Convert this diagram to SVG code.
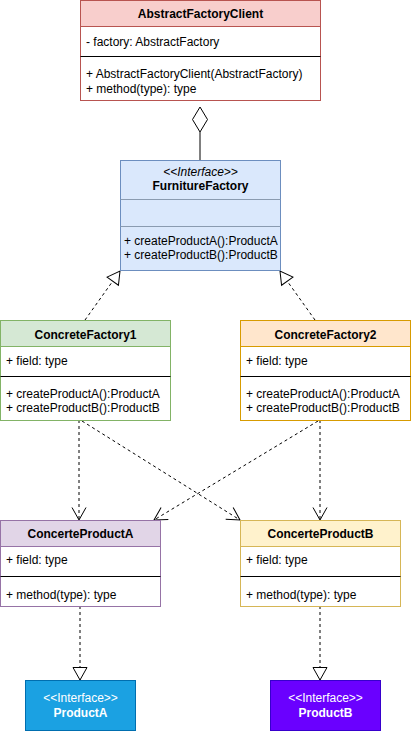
<svg xmlns="http://www.w3.org/2000/svg" width="411" height="731" viewBox="0 0 411 731">
<style>
text { font-family: "Liberation Sans", Arial, Helvetica, sans-serif; font-size: 12px; fill: #000; }
.b { font-weight: bold; }
.c { text-anchor: middle; }
.w { fill: #fff; }
.sep { stroke: #000; stroke-width: 1; }
.dash { fill: none; stroke: #000; stroke-width: 1; stroke-dasharray: 3 3; }
</style>
<defs>
<marker id="tri" markerUnits="userSpaceOnUse" markerWidth="16" markerHeight="16" viewBox="0 0 16 16" refX="14" refY="8" orient="auto">
<path d="M1.5,1 L14,8 L1.5,15 Z" fill="#fff" stroke="#000" stroke-width="1"/>
</marker>
<marker id="open" markerUnits="userSpaceOnUse" markerWidth="16" markerHeight="16" viewBox="0 0 16 16" refX="14" refY="8" orient="auto">
<path d="M1.5,1 L14,8 L1.5,15" fill="none" stroke="#000" stroke-width="1"/>
</marker>
</defs>

<g id="connectors">
<line x1="200" y1="160" x2="200" y2="132" stroke="#000"/>
<polygon points="200,107 207.5,119.5 200,132 192.5,119.5" fill="#fff" stroke="#000"/>
<line class="dash" x1="85" y1="320" x2="120" y2="271" marker-end="url(#tri)"/>
<line class="dash" x1="315" y1="320" x2="280" y2="271" marker-end="url(#tri)"/>
<line class="dash" x1="79" y1="420" x2="79" y2="520" marker-end="url(#open)"/>
<line class="dash" x1="82" y1="421" x2="240" y2="520" marker-end="url(#open)"/>
<line class="dash" x1="320" y1="420" x2="320" y2="520" marker-end="url(#open)"/>
<line class="dash" x1="318" y1="421" x2="154" y2="520" marker-end="url(#open)"/>
<line class="dash" x1="80" y1="606" x2="80" y2="680" marker-end="url(#tri)"/>
<line class="dash" x1="320" y1="606" x2="320" y2="680" stroke="#808080" marker-end="url(#tri)"/>
</g>

<g id="AbstractFactoryClient">
<rect x="80.5" y="0.5" width="240" height="100" fill="#fff" stroke="#b85450"/>
<rect x="80.5" y="0.5" width="240" height="26" fill="#f8cecc" stroke="#b85450"/>
<text class="b c" x="200.5" y="17.5">AbstractFactoryClient</text>
<text x="86" y="45.5">- factory: AbstractFactory</text>
<line class="sep" x1="80.5" y1="56.5" x2="320.5" y2="56.5"/>
<text x="86" y="77.5">+ AbstractFactoryClient(AbstractFactory)</text>
<text x="86" y="92.5">+ method(type): type</text>
</g>

<g id="FurnitureFactory">
<rect x="120.5" y="160.5" width="160" height="110" fill="#dae8fc" stroke="#6c8ebf"/>
<text class="c" x="200.5" y="175.5" font-style="italic">&lt;&lt;Interface&gt;&gt;</text>
<text class="b c" x="200.5" y="189.5">FurnitureFactory</text>
<line x1="120.5" y1="199.5" x2="280.5" y2="199.5" stroke="#8a9bb0"/>
<line x1="120.5" y1="226.5" x2="280.5" y2="226.5" stroke="#8a9bb0"/>
<text x="124" y="244.5">+ createProductA():ProductA</text>
<text x="124" y="258.5">+ createProductB():ProductB</text>
</g>

<g id="ConcreteFactory1">
<rect x="0.5" y="320.5" width="170" height="100" fill="#fff" stroke="#82b366"/>
<rect x="0.5" y="320.5" width="170" height="26" fill="#d5e8d4" stroke="#82b366"/>
<text class="b c" x="85.5" y="338.5">ConcreteFactory1</text>
<text x="6" y="364.5">+ field: type</text>
<line class="sep" x1="0.5" y1="376.5" x2="170.5" y2="376.5"/>
<text x="6" y="397.5">+ createProductA():ProductA</text>
<text x="6" y="412">+ createProductB():ProductB</text>
</g>

<g id="ConcreteFactory2">
<rect x="240.5" y="320.5" width="170" height="100" fill="#fff" stroke="#d79b00"/>
<rect x="240.5" y="320.5" width="170" height="26" fill="#ffe6cc" stroke="#d79b00"/>
<text class="b c" x="325.5" y="338.5">ConcreteFactory2</text>
<text x="246" y="364.5">+ field: type</text>
<line class="sep" x1="240.5" y1="376.5" x2="410.5" y2="376.5"/>
<text x="246" y="397.5">+ createProductA():ProductA</text>
<text x="246" y="412">+ createProductB():ProductB</text>
</g>

<g id="ConcerteProductA">
<rect x="0.5" y="520.5" width="160" height="86" fill="#fff" stroke="#9673a6"/>
<rect x="0.5" y="520.5" width="160" height="26" fill="#e1d5e7" stroke="#9673a6"/>
<text class="b c" x="80.5" y="538">ConcerteProductA</text>
<text x="6" y="563.5">+ field: type</text>
<line class="sep" x1="0.5" y1="576.5" x2="160.5" y2="576.5"/>
<text x="6" y="598.5">+ method(type): type</text>
</g>

<g id="ConcerteProductB">
<rect x="240.5" y="520.5" width="160" height="86" fill="#fff" stroke="#d6b656"/>
<rect x="240.5" y="520.5" width="160" height="26" fill="#fff2cc" stroke="#d6b656"/>
<text class="b c" x="320.5" y="538">ConcerteProductB</text>
<text x="246" y="563.5">+ field: type</text>
<line class="sep" x1="240.5" y1="576.5" x2="400.5" y2="576.5"/>
<text x="246" y="598.5">+ method(type): type</text>
</g>

<g id="ProductA">
<rect x="25.5" y="680.5" width="110" height="50" fill="#1ba1e2" stroke="#006eaf"/>
<text class="c w" x="80.5" y="702">&lt;&lt;Interface&gt;&gt;</text>
<text class="b c w" x="80.5" y="716.5">ProductA</text>
</g>

<g id="ProductB">
<rect x="270.5" y="680.5" width="110" height="50" fill="#6a00ff" stroke="#3700cc"/>
<text class="c w" x="325.5" y="702">&lt;&lt;Interface&gt;&gt;</text>
<text class="b c w" x="325.5" y="716.5">ProductB</text>
</g>
</svg>
